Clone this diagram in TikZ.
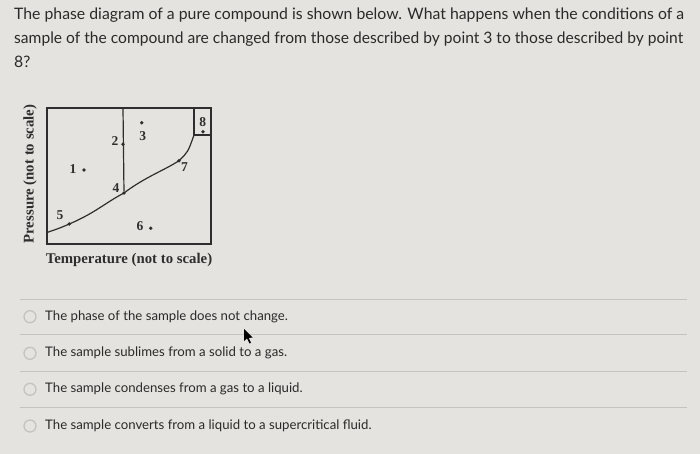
\documentclass[tikz,border=0pt]{standalone}
\usepackage{fontspec}
\setmainfont{Lato}
\newfontfamily\diag{Liberation Serif}
\definecolor{bg}{HTML}{E4E3DF}
\definecolor{txt}{HTML}{2A2A2A}
\definecolor{sep}{HTML}{C4C3BF}
\definecolor{ink}{HTML}{2E2E2E}
\tikzset{
  qline/.style={anchor=base west, inner sep=0pt, font=\fontsize{15.8}{18}\selectfont, text=txt},
  ans/.style={anchor=west, inner sep=0pt, font=\fontsize{13.2}{15}\selectfont, text=txt},
  radio/.style={circle, draw=sep, line width=1.3pt, minimum size=12pt, inner sep=0pt},
  sepline/.style={draw=sep, line width=1pt},
  axis/.style={inner sep=0pt, font=\diag\bfseries\fontsize{14.8}{16}\selectfont, text=ink},
  num/.style={inner sep=0pt, font=\diag\bfseries\fontsize{13.5}{15}\selectfont, text=ink},
  pt/.style={circle, fill=ink, minimum size=3.8pt, inner sep=0pt},
  frame/.style={draw=ink, line width=1.6pt},
  curve/.style={draw=ink, line width=1.2pt}
}
\begin{document}
\begin{tikzpicture}[x=1pt,y=-1pt]
\fill[bg] (0,0) rectangle (700,454);
\useasboundingbox (0,0) rectangle (700,454);
% question
\node[qline] (q1) at (14,20) {The phase diagram of a pure compound is shown below. What happens when the conditions of a};
\node[qline, xscale=0.987] (q2) at (14,44) {sample of the compound are changed from those described by point 3 to those described by point};
\node[qline] (q3) at (14,68) {8?};
% diagram frame
\draw[frame] (47,108) rectangle (211,244);
\coordinate (vtop) at (123,108);
\coordinate (ctop) at (194,108);
\coordinate (cc) at (194,135);
\coordinate (cr) at (211,135);
\coordinate (cl) at (47,232.5);
% points
\node[pt] (p2) at (123,144.3) {};
\node[pt] (p3) at (141.7,122.7) {};
\node[pt] (p1) at (84,170) {};
\node[pt] (p4) at (124,193) {};
\node[pt] (p5) at (69.3,224) {};
\node[pt] (p6) at (150.7,228.3) {};
\node[pt] (p7) at (179,160.7) {};
\node[pt] (p8) at (203,131.7) {};
% lines
\draw[curve] (vtop) -- (p4);
\draw[curve] (ctop) -- (cc) -- (cr);
\draw[curve] (cl) .. controls (60,228) .. (p5.center) .. controls (95,213) and (105,203) .. (p4.center) .. controls (145,177) and (165,170) .. (p7.center) .. controls (188,152) .. (cc);
% labels
\node[num] (l1) at (73,169) {1};
\node[num] (l2) at (115,141.5) {2};
\node[num] (l3) at (142.7,136.5) {3};
\node[num] (l4) at (116,188) {4};
\node[num] (l5) at (60,215.5) {5};
\node[num] (l6) at (140,226.5) {6};
\node[num] (l7) at (184.5,167.5) {7};
\node[num] (l8) at (202.7,122) {8};
% axis labels
\node[axis, rotate=90] (ylab) at (30,174) {Pressure (not to scale)};
\node[axis] (xlab) at (129,259.5) {Temperature (not to scale)};
% separators
\draw[sepline] (20,299.3) -- (687,299.3);
\draw[sepline] (20,334.3) -- (687,334.3);
\draw[sepline] (20,371) -- (687,371);
\draw[sepline] (20,407.7) -- (687,407.7);
% answers
\node[radio] (r1) at (30,316.7) {};
\node[radio] (r2) at (30,353.3) {};
\node[radio] (r3) at (30,389.3) {};
\node[radio] (r4) at (30,426) {};
\node[ans] (a1) at (45,316.7) {The phase of the sample does not change.};
\node[ans] (a2) at (45,353.3) {The sample sublimes from a solid to a gas.};
\node[ans] (a3) at (45,389.3) {The sample condenses from a gas to a liquid.};
\node[ans] (a4) at (45,426) {The sample converts from a liquid to a supercritical fluid.};
% cursor
\fill[black] (244,329) -- (244,341) -- (247,338.5) -- (249.5,343.5) -- (251,342.8) -- (248.7,338) -- (252.5,337.5) -- cycle;
\end{tikzpicture}
\end{document}
